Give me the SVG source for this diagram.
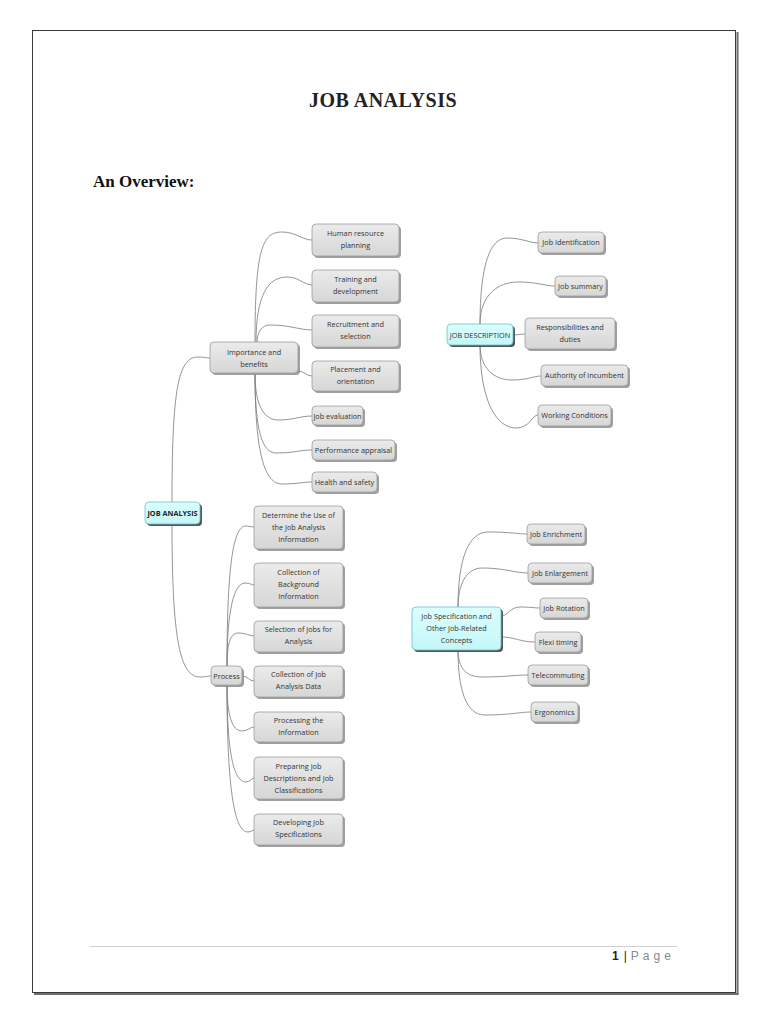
<svg xmlns="http://www.w3.org/2000/svg" width="768" height="1024" viewBox="0 0 768 1024">
<defs>
<linearGradient id="g" x1="0" y1="0" x2="0" y2="1"><stop offset="0" stop-color="#ebebeb"/><stop offset="1" stop-color="#d6d6d6"/></linearGradient>
<linearGradient id="cy" x1="0" y1="0" x2="0" y2="1"><stop offset="0" stop-color="#dcffff"/><stop offset="1" stop-color="#c4f6f8"/></linearGradient>
</defs>
<style>
.b{fill:url(#g);stroke:#9c9c9c;stroke-width:.8}
.s{fill:#8e8e8e;opacity:.85}
.cb{fill:url(#cy);stroke:#66c4c8;stroke-width:.8}
.cs{fill:#555}
.t{font-family:"Open Sans","Noto Sans","Liberation Sans",sans-serif;font-size:7.3px;fill:#333;text-anchor:middle}
.tb{font-weight:bold;fill:#222}
#connectors path{fill:none;stroke:#7a7a7a;stroke-width:.8}
</style>
<rect width="768" height="1024" fill="#fff"/>
<g id="page">
<rect x="32.5" y="30.5" width="703" height="962" fill="none" stroke="#3a3a3a" stroke-width="1"/>
<line x1="737.5" y1="32" x2="737.5" y2="994.5" stroke="#6e6e6e" stroke-width="2"/>
<line x1="34" y1="994" x2="738.5" y2="994" stroke="#6e6e6e" stroke-width="2"/>
<text x="383" y="107" font-family="'Liberation Serif',serif" font-size="20" font-weight="bold" text-anchor="middle" fill="#222" letter-spacing="0.5">JOB ANALYSIS</text>
<text x="93" y="187" font-family="'Liberation Serif',serif" font-size="17" font-weight="bold" fill="#111">An Overview:</text>
<line x1="90" y1="946.5" x2="677" y2="946.5" stroke="#d0d0d0" stroke-width="1"/>
<text x="612" y="960" font-family="'Liberation Sans',sans-serif" font-size="12" fill="#222"><tspan font-weight="bold">1</tspan><tspan dx="5">|</tspan><tspan dx="4" fill="#8a8a8a" letter-spacing="4">Page</tspan></text>
</g>
<g id="connectors">
<path d="M255,343 C255,250 262,232 282,232 C296,232 302,240 312,240"/>
<path d="M256,343 C256,295 268,277 287,277 C299,277 304,285 312,285"/>
<path d="M257,343 C257,332 262,325 270,325 C290,325 300,330 312,330"/>
<path d="M298,371 C304,371 306,376 312,376"/>
<path d="M255,374 C255,405 264,420 278,420 C294,420 300,416 312,416"/>
<path d="M255,374 C255,430 262,453 276,453 C294,453 300,450 312,450"/>
<path d="M255,374 C255,455 265,484 282,484 C298,484 302,482 312,482"/>
<path d="M172,502 C172,390 178,357 198,357 C204,357 207,358 210,358"/>
<path d="M172,524 C172,640 180,677 200,677 C205,677 208,676 211,676"/>
<path d="M227,666 C227,560 234,526 246,526 C250,526 252,527 254,527"/>
<path d="M227,666 C227,610 234,583 245,583 C250,583 252,585 254,585"/>
<path d="M227,666 C227,645 230,633 238,633 C246,633 250,636 254,636"/>
<path d="M242,676 C248,676 249,681 254,681"/>
<path d="M227,685 C227,715 232,731 242,731 C248,731 250,727 254,727"/>
<path d="M227,685 C227,755 234,782 246,782 C250,782 252,778 254,778"/>
<path d="M227,685 C227,800 236,832 248,832 C251,832 253,830 254,830"/>
<path d="M480,324 C480,265 490,238 507,238 C522,238 530,243 538,243"/>
<path d="M480,324 C480,295 498,282 518,282 C538,282 545,286 555,286"/>
<path d="M513,335 C518,335 520,334 525,334"/>
<path d="M480,345 C480,368 494,380 512,380 C528,380 534,376 541,376"/>
<path d="M480,345 C480,400 496,428 516,428 C530,428 532,415 538,415"/>
<path d="M458,607 C458,560 468,532 488,532 C510,532 518,534 527,534"/>
<path d="M458,607 C458,585 466,568 482,568 C505,568 515,573 528,573"/>
<path d="M501,616 C508,616 510,607 520,607 C530,607 535,608 540,608"/>
<path d="M501,637 C515,637 520,642 535,642"/>
<path d="M458,650 C458,668 466,677 482,677 C505,677 515,675 528,675"/>
<path d="M458,650 C458,690 466,715 485,715 C510,715 520,712 531,712"/>
</g>

<g id="job-analysis"><rect class="cs" x="147" y="504" width="55" height="22" rx="4"/><rect class="cb" x="145" y="502" width="55" height="22" rx="4"/><text class="t tb" x="172.5" y="516">JOB ANALYSIS</text></g>

<g id="importance"><rect class="s" x="212" y="344" width="88" height="31" rx="4"/><rect class="b" x="210" y="342" width="88" height="31" rx="4"/><text class="t" x="254" y="355">Importance and</text><text class="t" x="254" y="367">benefits</text></g>
<g id="hrp"><rect class="s" x="314" y="226" width="87" height="32" rx="4"/><rect class="b" x="312" y="224" width="87" height="32" rx="4"/><text class="t" x="355.5" y="236">Human resource</text><text class="t" x="355.5" y="248">planning</text></g>
<g id="training"><rect class="s" x="314" y="272" width="87" height="32" rx="4"/><rect class="b" x="312" y="270" width="87" height="32" rx="4"/><text class="t" x="355.5" y="282">Training and</text><text class="t" x="355.5" y="294">development</text></g>
<g id="recruitment"><rect class="s" x="314" y="317" width="87" height="32" rx="4"/><rect class="b" x="312" y="315" width="87" height="32" rx="4"/><text class="t" x="355.5" y="327">Recruitment and</text><text class="t" x="355.5" y="339">selection</text></g>
<g id="placement"><rect class="s" x="314" y="363" width="87" height="30" rx="4"/><rect class="b" x="312" y="361" width="87" height="30" rx="4"/><text class="t" x="355.5" y="372">Placement and</text><text class="t" x="355.5" y="384">orientation</text></g>
<g id="job-evaluation"><rect class="s" x="314" y="408" width="51" height="19" rx="4"/><rect class="b" x="312" y="406" width="51" height="19" rx="4"/><text class="t" x="337.5" y="418.5">Job evaluation</text></g>
<g id="performance"><rect class="s" x="314" y="442" width="83" height="20" rx="4"/><rect class="b" x="312" y="440" width="83" height="20" rx="4"/><text class="t" x="353.5" y="453">Performance appraisal</text></g>
<g id="health"><rect class="s" x="314" y="474" width="65" height="20" rx="4"/><rect class="b" x="312" y="472" width="65" height="20" rx="4"/><text class="t" x="344.5" y="485">Health and safety</text></g>

<g id="process"><rect class="s" x="213" y="668" width="31" height="19" rx="4"/><rect class="b" x="211" y="666" width="31" height="19" rx="4"/><text class="t" x="226.5" y="678.5">Process</text></g>
<g id="determine"><rect class="s" x="256" y="508" width="89" height="43" rx="4"/><rect class="b" x="254" y="506" width="89" height="43" rx="4"/><text class="t" x="298.5" y="518">Determine the Use of</text><text class="t" x="298.5" y="530">the Job Analysis</text><text class="t" x="298.5" y="542">Information</text></g>
<g id="background"><rect class="s" x="256" y="565" width="89" height="44" rx="4"/><rect class="b" x="254" y="563" width="89" height="44" rx="4"/><text class="t" x="298.5" y="575">Collection of</text><text class="t" x="298.5" y="587">Background</text><text class="t" x="298.5" y="599">Information</text></g>
<g id="selection"><rect class="s" x="256" y="623" width="89" height="31" rx="4"/><rect class="b" x="254" y="621" width="89" height="31" rx="4"/><text class="t" x="298.5" y="632">Selection of Jobs for</text><text class="t" x="298.5" y="644">Analysis</text></g>
<g id="collection-data"><rect class="s" x="256" y="668" width="89" height="31" rx="4"/><rect class="b" x="254" y="666" width="89" height="31" rx="4"/><text class="t" x="298.5" y="677">Collection of Job</text><text class="t" x="298.5" y="689">Analysis Data</text></g>
<g id="processing"><rect class="s" x="256" y="714" width="89" height="30" rx="4"/><rect class="b" x="254" y="712" width="89" height="30" rx="4"/><text class="t" x="298.5" y="723">Processing the</text><text class="t" x="298.5" y="735">Information</text></g>
<g id="preparing"><rect class="s" x="256" y="759" width="89" height="42" rx="4"/><rect class="b" x="254" y="757" width="89" height="42" rx="4"/><text class="t" x="298.5" y="769">Preparing Job</text><text class="t" x="298.5" y="781">Descriptions and Job</text><text class="t" x="298.5" y="793">Classifications</text></g>
<g id="developing"><rect class="s" x="256" y="816" width="89" height="31" rx="4"/><rect class="b" x="254" y="814" width="89" height="31" rx="4"/><text class="t" x="298.5" y="825">Developing Job</text><text class="t" x="298.5" y="837">Specifications</text></g>

<g id="job-description"><rect class="cs" x="449" y="326" width="66" height="21" rx="4"/><rect class="cb" x="447" y="324" width="66" height="21" rx="4"/><text class="t" x="480" y="337.5" font-size="6.6">JOB DESCRIPTION</text></g>
<g id="job-identification"><rect class="s" x="540" y="234" width="66" height="21" rx="4"/><rect class="b" x="538" y="232" width="66" height="21" rx="4"/><text class="t" x="571" y="245">Job Identification</text></g>
<g id="job-summary"><rect class="s" x="557" y="278" width="51" height="20" rx="4"/><rect class="b" x="555" y="276" width="51" height="20" rx="4"/><text class="t" x="580.5" y="289">Job summary</text></g>
<g id="responsibilities"><rect class="s" x="527" y="320" width="90" height="31" rx="4"/><rect class="b" x="525" y="318" width="90" height="31" rx="4"/><text class="t" x="570" y="330">Responsibilities and</text><text class="t" x="570" y="342">duties</text></g>
<g id="authority"><rect class="s" x="543" y="367" width="87" height="21" rx="4"/><rect class="b" x="541" y="365" width="87" height="21" rx="4"/><text class="t" x="584.5" y="378">Authority of incumbent</text></g>
<g id="working"><rect class="s" x="540" y="407" width="73" height="21" rx="4"/><rect class="b" x="538" y="405" width="73" height="21" rx="4"/><text class="t" x="574.5" y="418">Working Conditions</text></g>

<g id="job-specification"><rect class="cs" x="414" y="609" width="89" height="43" rx="4"/><rect class="cb" x="412" y="607" width="89" height="43" rx="4"/><text class="t" x="456.5" y="619">Job Specification and</text><text class="t" x="456.5" y="631">Other Job-Related</text><text class="t" x="456.5" y="643">Concepts</text></g>
<g id="job-enrichment"><rect class="s" x="529" y="526" width="58" height="20" rx="4"/><rect class="b" x="527" y="524" width="58" height="20" rx="4"/><text class="t" x="556" y="537">Job Enrichment</text></g>
<g id="job-enlargement"><rect class="s" x="530" y="565" width="64" height="20" rx="4"/><rect class="b" x="528" y="563" width="64" height="20" rx="4"/><text class="t" x="560" y="576">Job Enlargement</text></g>
<g id="job-rotation"><rect class="s" x="542" y="600" width="48" height="20" rx="4"/><rect class="b" x="540" y="598" width="48" height="20" rx="4"/><text class="t" x="564" y="611">Job Rotation</text></g>
<g id="flexi"><rect class="s" x="537" y="634" width="46" height="20" rx="4"/><rect class="b" x="535" y="632" width="46" height="20" rx="4"/><text class="t" x="558" y="645">Flexi timing</text></g>
<g id="telecommuting"><rect class="s" x="530" y="667" width="60" height="20" rx="4"/><rect class="b" x="528" y="665" width="60" height="20" rx="4"/><text class="t" x="558" y="678">Telecommuting</text></g>
<g id="ergonomics"><rect class="s" x="533" y="704" width="47" height="20" rx="4"/><rect class="b" x="531" y="702" width="47" height="20" rx="4"/><text class="t" x="554.5" y="715">Ergonomics</text></g>
</svg>
